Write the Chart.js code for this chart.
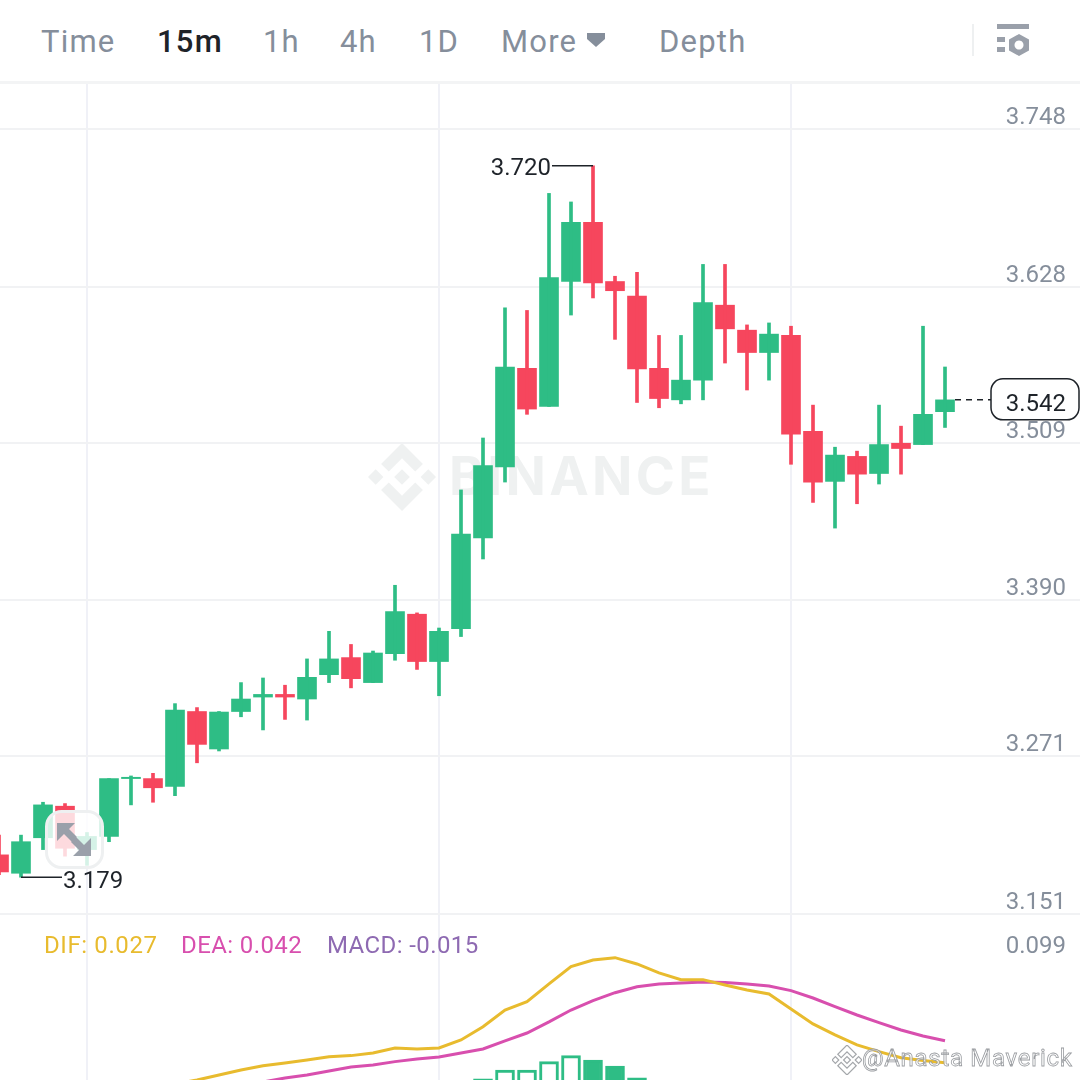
<!DOCTYPE html>
<html>
<head>
<meta charset="utf-8">
<script src="https://cdn.jsdelivr.net/npm/chart.js@4"></script>
<style>
html, body { margin: 0; padding: 0; background: #fff; overflow: hidden; width: 1080px; height: 1080px; }
body { position: relative; font-family: Roboto, sans-serif; }
.tab { position: absolute; top: 23px; font-size: 31px; line-height: 38px; letter-spacing: 1.2px; color: #858e9b; white-space: nowrap; }
.tab.on { color: #1e2329; font-weight: 500; }
.leg { position: absolute; top: 931px; font-size: 24px; line-height: 28px; letter-spacing: 0.4px; white-space: nowrap; }
#linha { position: absolute; left: 0; top: 81px; width: 1080px; height: 3px; background: #f3f4f5; }
#marca { position: absolute; left: 449px; top: 441px; font: 700 53px/70px Inter, sans-serif; letter-spacing: 3.3px; color: #eff1f1; }
#autor { position: absolute; left: 862px; top: 1041px; font-size: 24px; line-height: 34px; letter-spacing: 0.7px; color: rgba(255,255,255,.75); -webkit-text-stroke: 0.8px #9a9da1; white-space: nowrap; }
canvas { position: absolute; left: 0; }
svg { position: absolute; }
#graficoPreco { top: 84px; }
#graficoMacd { top: 916px; }
</style>
</head>
<body>
<svg style="left:368px;top:443px" width="68" height="68" viewBox="0 0 126.61 126.61"><path fill="#eff1f1" d="M38.73 53.2l24.59-24.58 24.6 24.6 14.3-14.31L63.32 0 24.42 38.9l14.31 14.3z M0 63.31l14.3-14.31 14.31 14.31-14.31 14.3z M38.73 73.41L63.32 98l24.6-24.6 14.31 14.29-38.9 38.91-38.91-38.88-.02-.02 14.33-14.29z M98 63.31l14.3-14.31 14.31 14.3-14.31 14.32z M77.83 63.3L63.32 48.78 48.81 63.28l14.51 14.5z"/></svg>
<div id="marca">BINANCE</div>

<canvas id="graficoPreco" width="1080" height="832"></canvas>
<canvas id="graficoMacd" width="1080" height="204"></canvas>

<div id="linha"></div>
<div class="tab" style="left:41px">Time</div>
<div class="tab on" style="left:157px">15m</div>
<div class="tab" style="left:263px">1h</div>
<div class="tab" style="left:340px">4h</div>
<div class="tab" style="left:419px">1D</div>
<div class="tab" style="left:501px">More</div>
<svg style="left:586px;top:32px" width="20" height="15"><path fill="#858e9b" d="M1 1h18v6l-9 8-9-8z"/></svg>
<div class="tab" style="left:659px">Depth</div>
<svg style="left:970px;top:22px" width="62" height="38">
  <rect x="2" y="2" width="2" height="32" fill="#eef0f1"/>
  <rect x="27" y="2" width="32" height="5" fill="#9aa0aa"/>
  <rect x="27" y="15" width="8" height="5" fill="#9aa0aa"/>
  <rect x="27" y="25" width="8" height="5" fill="#9aa0aa"/>
  <path fill="#9aa0aa" fill-rule="evenodd" d="M49 12l10 5.500v11l-10 5.500-10-5.500v-11z M49 18.500a4.500 4.500 0 1 0 .01 0z"/>
</svg>

<div class="leg" style="left:44px;color:#e8bb2e;letter-spacing:0.6px">DIF: 0.027</div>
<div class="leg" style="left:181px;color:#d84fae">DEA: 0.042</div>
<div class="leg" style="left:327px;color:#8e6ab2">MACD: -0.015</div>

<svg style="left:43px;top:808px" width="64" height="64">
  <rect x="3.500" y="3.500" width="56" height="56" rx="15" fill="rgba(255,255,255,.8)" stroke="#eef0f1" stroke-width="3"/>
  <path fill="#9aa0aa" d="M14 15h18l-6 6 8 8-5 5-8-8-7 7z"/>
  <path fill="#9aa0aa" d="M48 48H30l6-6-8-8 5-5 8 8 7-7z"/>
</svg>

<svg style="left:832px;top:1045px" width="30" height="30" viewBox="0 0 126.61 126.61"><path fill="#fff" stroke="#a4a7ab" stroke-width="5" d="M38.730 53.200l24.590-24.580 24.600 24.600 14.300-14.310L63.320 0 24.420 38.900z M0 63.310l14.300-14.310 14.310 14.310-14.310 14.300z M38.730 73.410L63.320 98l24.600-24.600 14.310 14.290-38.900 38.910-38.910-38.880z M98 63.310l14.300-14.310 14.310 14.300-14.310 14.320z M77.830 63.300L63.320 48.780 48.810 63.280l14.510 14.500z"/></svg>
<div id="autor">@Anasta Maverick</div>

<script>
// velas de 15m, da esquerda para a direita
var abertura = [3.196,3.182,3.209,3.233,3.200,3.210,3.254,3.254,3.248,3.305,3.2765,3.305,3.316,3.318,3.3145,3.333,3.346,3.327,3.349,3.379,3.343,3.368,3.437,3.491,3.566,3.537,3.632,3.677,3.632,3.621,3.566,3.542,3.557,3.614,3.595,3.578,3.591,3.518,3.480,3.499,3.486,3.509,3.508,3.533];
var maximo = [3.211,3.211,3.236,3.235,3.213,3.254,3.256,3.258,3.311,3.308,3.305,3.327,3.3305,3.325,3.345,3.366,3.356,3.351,3.401,3.380,3.3685,3.4735,3.513,3.612,3.610,3.699,3.6925,3.720,3.636,3.639,3.591,3.591,3.645,3.645,3.599,3.6005,3.598,3.538,3.506,3.503,3.538,3.522,3.598,3.567];
var minimo = [3.181,3.179,3.200,3.195,3.188,3.206,3.234,3.236,3.241,3.266,3.275,3.301,3.291,3.299,3.2985,3.327,3.323,3.327,3.344,3.337,3.317,3.362,3.421,3.4795,3.531,3.537,3.6065,3.6195,3.588,3.540,3.536,3.539,3.542,3.570,3.5495,3.557,3.493,3.464,3.4445,3.463,3.478,3.4855,3.508,3.521];
var fechamento = [3.183,3.206,3.234,3.201,3.210,3.254,3.255,3.247,3.306,3.280,3.3046,3.3145,3.318,3.316,3.331,3.345,3.330,3.3495,3.381,3.343,3.366,3.440,3.492,3.567,3.535,3.635,3.677,3.631,3.625,3.5655,3.543,3.557,3.616,3.596,3.578,3.592,3.516,3.4795,3.500,3.4855,3.508,3.505,3.531,3.542];

// linhas e barras do MACD (null = fora da parte visivel)
var dif = [null,null,null,null,null,null,null,null,0.013,0.0158,0.0192,0.0226,0.0255,0.0274,0.0294,0.0317,0.0324,0.0342,0.0376,0.0369,0.0376,0.0431,0.0521,0.0635,0.0692,0.0813,0.0931,0.0976,0.0992,0.0949,0.0888,0.0842,0.0842,0.0806,0.0772,0.0744,0.0642,0.054,0.0465,0.0397,0.0351,0.031,0.029,0.0276];
var dea = [null,null,null,null,null,null,null,null,null,null,null,null,0.0144,0.0172,0.0192,0.0219,0.0247,0.026,0.0283,0.0301,0.0315,0.0342,0.0369,0.0424,0.0478,0.0554,0.0635,0.0699,0.0753,0.0794,0.0813,0.0819,0.0826,0.0822,0.0813,0.0799,0.0767,0.0717,0.0658,0.0601,0.0549,0.0499,0.0458,0.0426];
var macd = [null,null,null,null,null,null,null,null,null,null,null,null,null,null,null,null,null,null,null,null,null,null,0.0165,0.0226,0.0226,0.0283,0.0324,0.0294,0.0253,0.0172,null,null,null,null,null,null,null,null,null,null,null,null,null,null];

var ticksPreco = [3.748, 3.628, 3.509, 3.390, 3.271, 3.151];
var ticksMacd = [0.099, 0];
var ticksTempo = [4, 20, 36];

var precoAtual = 3.542;
var precoMaximo = 3.720;
var precoMinimo = 3.179;
var indiceMaximo = 27;
var indiceMinimo = 1;

var verde = '#2ebd85';
var vermelho = '#f6465d';
var fonteEixo = { family: 'Roboto', size: 24 };

var indices = abertura.map(function (v, i) { return i; });

function fixarTicks(lista) {
    return function (escala) {
        escala.ticks = lista.map(function (v) { return { value: v }; });
    };
}

// tira o espaco que o Chart.js reserva para os rotulos
function semPadding(escala) {
    escala.paddingTop = 0;
    escala.paddingBottom = 0;
    escala.paddingLeft = 0;
    escala.paddingRight = 0;
}

function eixoSemLargura(escala) {
    semPadding(escala);
    escala.width = 0;
}

function corVela(ctx) {
    var i = ctx.dataIndex;
    return fechamento[i] >= abertura[i] ? verde : vermelho;
}

function eixoX() {
    return {
        type: 'linear',
        offset: false,
        bounds: 'data',
        min: 0.04545,
        max: 49.136,
        afterBuildTicks: fixarTicks(ticksTempo),
        afterFit: semPadding,
        ticks: { display: false },
        border: { display: false },
        grid: { offset: false, color: '#f0f1f7', lineWidth: 2, drawTicks: false }
    };
}

// rotulos de maximo, minimo e preco atual
var anotacoes = {
    id: 'anotacoes',
    afterDatasetsDraw: function (chart) {
        var c = chart.ctx;
        var x = chart.scales.x;
        var y = chart.scales.y;
        c.save();
        c.font = '24px Roboto';
        c.fillStyle = '#1e2329';
        c.strokeStyle = '#1e2329';
        c.lineWidth = 1.5;
        c.textBaseline = 'middle';

        var xa = x.getPixelForValue(indiceMaximo);
        var ya = y.getPixelForValue(precoMaximo);
        c.beginPath();
        c.moveTo(xa, ya);
        c.lineTo(xa - 41, ya);
        c.stroke();
        c.textAlign = 'right';
        c.fillText(precoMaximo.toFixed(3), xa - 42, ya + 3);

        var xb = x.getPixelForValue(indiceMinimo);
        var yb = y.getPixelForValue(precoMinimo);
        c.beginPath();
        c.moveTo(xb, yb);
        c.lineTo(xb + 41, yb);
        c.stroke();
        c.textAlign = 'left';
        c.fillText(precoMinimo.toFixed(3), xb + 42, yb + 5);

        var yp = y.getPixelForValue(precoAtual);
        c.setLineDash([6, 5]);
        c.beginPath();
        c.moveTo(x.getPixelForValue(abertura.length - 1) + 10, yp);
        c.lineTo(991, yp);
        c.stroke();
        c.setLineDash([]);
        c.beginPath();
        c.roundRect(991, yp - 21, 88, 41, 12);
        c.fillStyle = '#fff';
        c.fill();
        c.stroke();
        c.fillStyle = '#1e2329';
        c.textAlign = 'right';
        c.fillText(precoAtual.toFixed(3), 1066, yp + 5);
        c.restore();
    }
};

new Chart(document.getElementById('graficoPreco'), {
    type: 'bar',
    data: {
        datasets: [{
            data: indices.map(function (i) { return { x: i, y: [minimo[i], maximo[i]] }; }),
            backgroundColor: corVela,
            barThickness: 3,
            borderWidth: 0
        }, {
            data: indices.map(function (i) { return { x: i, y: [abertura[i], fechamento[i]] }; }),
            backgroundColor: corVela,
            barThickness: 19,
            borderWidth: 0
        }]
    },
    options: {
        responsive: false,
        animation: false,
        grouped: false,
        events: [],
        layout: { padding: 0 },
        plugins: { legend: { display: false }, tooltip: { enabled: false } },
        scales: {
            x: eixoX(),
            y: {
                position: 'right',
                min: 3.1495,
                max: 3.7822,
                afterBuildTicks: fixarTicks(ticksPreco),
                afterFit: eixoSemLargura,
                border: { display: false },
                grid: { color: '#f1f2f4', lineWidth: 2, drawTicks: false },
                ticks: {
                    mirror: true,
                    padding: -14,
                    labelOffset: -11,
                    autoSkip: false,
                    color: '#858e9b',
                    font: fonteEixo,
                    callback: function (v) { return v.toFixed(3); }
                }
            }
        }
    },
    plugins: [anotacoes]
});

new Chart(document.getElementById('graficoMacd'), {
    data: {
        datasets: [{
            type: 'line',
            data: indices.map(function (i) { return { x: i, y: dif[i] }; }),
            borderColor: '#e8bb2e',
            borderWidth: 3,
            pointRadius: 0,
            tension: 0,
            order: 1
        }, {
            type: 'line',
            data: indices.map(function (i) { return { x: i, y: dea[i] }; }),
            borderColor: '#d84fae',
            borderWidth: 3,
            pointRadius: 0,
            tension: 0,
            order: 2
        }, {
            type: 'bar',
            data: indices.map(function (i) { return { x: i, y: macd[i] }; }),
            barThickness: 19,
            borderWidth: 3,
            borderSkipped: false,
            borderColor: verde,
            // barra vazada enquanto o MACD sobe, cheia quando cai
            backgroundColor: function (ctx) {
                var i = ctx.dataIndex;
                return macd[i] > macd[i - 1] || macd[i - 1] == null || macd[i] == macd[i - 1] ? '#fff' : verde;
            },
            order: 3
        }]
    },
    options: {
        responsive: false,
        animation: false,
        events: [],
        spanGaps: false,
        layout: { padding: 0 },
        plugins: { legend: { display: false }, tooltip: { enabled: false } },
        scales: {
            x: eixoX(),
            y: {
                position: 'right',
                min: -0.0115,
                max: 0.1276,
                afterBuildTicks: fixarTicks(ticksMacd),
                afterFit: eixoSemLargura,
                border: { display: false },
                grid: { display: false, drawTicks: false },
                ticks: {
                    mirror: true,
                    padding: -14,
                    labelOffset: -11,
                    autoSkip: false,
                    color: '#858e9b',
                    font: fonteEixo,
                    callback: function (v) { return v.toFixed(3); }
                }
            }
        }
    }
});
</script>
</body>
</html>
